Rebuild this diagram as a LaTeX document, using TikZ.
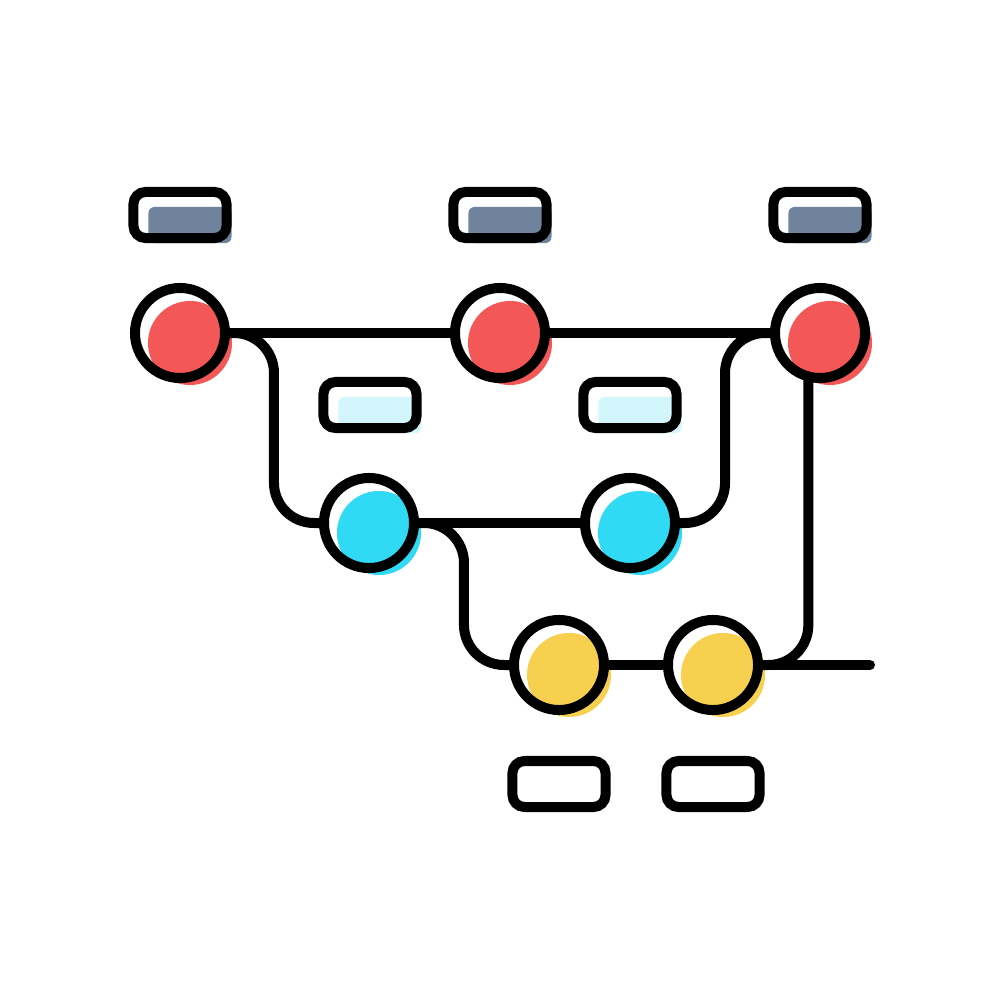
\documentclass[tikz,border=0pt]{standalone}
\usetikzlibrary{calc,backgrounds}
\definecolor{nodered}{HTML}{F45757}
\definecolor{nodecyan}{HTML}{30D9F4}
\definecolor{nodeyellow}{HTML}{F8D04F}
\definecolor{tagslate}{HTML}{6F849C}
\definecolor{tagice}{HTML}{D3F6FD}

\begin{document}
\begin{tikzpicture}[x=0.01cm,y=-0.01cm,line width=1mm,line cap=round,
	commitdot/.style={circle,draw,minimum size=9mm,inner sep=0pt,outer sep=0pt},
	tagbox/.style={draw,rounded corners=1.2mm,minimum width=9.3mm,minimum height=4.6mm,inner sep=0pt,outer sep=0pt},
	dotfill/.style={circle,fill=#1,minimum size=8.4mm,inner sep=0pt},
	boxfill/.style={fill=#1,rounded corners=.6mm,minimum width=8.3mm,minimum height=3.6mm,inner sep=0pt},
	branch/.style={rounded corners=4mm}]
	\useasboundingbox (0,0) rectangle (1000,1000);

	% tags
	\node[tagbox] at (180,215) (T1) {};
	\node[tagbox] at (500,215) (T2) {};
	\node[tagbox] at (820,215) (T3) {};
	\node[tagbox] at (370,405) (M1) {};
	\node[tagbox] at (630,405) (M2) {};
	\node[tagbox] at (559,784) (B1) {};
	\node[tagbox] at (713,784) (B2) {};

	% commits
	\node[commitdot] at (180,333) (R1) {};
	\node[commitdot] at (500,333) (R2) {};
	\node[commitdot] at (820,333) (R3) {};
	\node[commitdot] at (369,523) (C1) {};
	\node[commitdot] at (630,523) (C2) {};
	\node[commitdot] at (559,665) (Y1) {};
	\node[commitdot] at (713,665) (Y2) {};
	\coordinate (tip) at (870,665);

	\begin{scope}[on background layer]
		\foreach \n/\c in {T1/tagslate,T2/tagslate,T3/tagslate,M1/tagice,M2/tagice}
			\node[boxfill=\c] (\n-fill) at ([shift={(10,10)}]\n) {};
		\foreach \n/\c in {R1/nodered,R2/nodered,R3/nodered,C1/nodecyan,C2/nodecyan,Y1/nodeyellow,Y2/nodeyellow}
			\node[dotfill=\c] (\n-fill) at ([shift={(10,10)}]\n) {};
	\end{scope}

	% branches
	\draw (R1) -- (R2) -- (R3);
	\draw (C1) -- (C2);
	\draw (Y1) -- (Y2) -- (tip);
	\draw[branch] (R1.east) -| ([shift={(-50,0)}]C1.west) -- (C1.west);
	\draw[branch] (R3.west) -| ([shift={(50,0)}]C2.east) -- (C2.east);
	\draw[branch] (C1.east) -| ([shift={(-50,0)}]Y1.west) -- (Y1.west);
	\draw[branch] (R3.-105) |- (Y2.east);
\end{tikzpicture}
\end{document}
